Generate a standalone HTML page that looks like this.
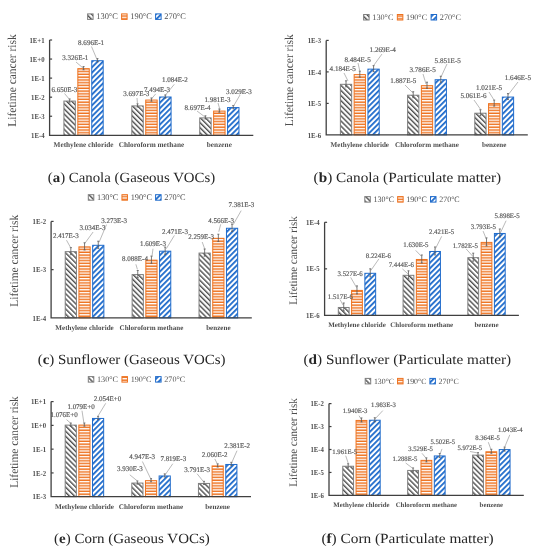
<!DOCTYPE html><html><head><meta charset="utf-8"><style>html,body{margin:0;padding:0;background:#fff;width:540px;height:550px;overflow:hidden}svg{display:block;filter:blur(0.3px)}text{font-family:"Liberation Serif",serif;text-rendering:geometricPrecision}</style></head><body>
<svg width="540" height="550" viewBox="0 0 540 550">
<defs>
<pattern id="pg" patternUnits="userSpaceOnUse" width="3.6" height="10" patternTransform="rotate(-45)"><rect width="3.6" height="10" fill="#fff"/><rect x="0" y="0" width="1.4" height="10" fill="#4d4d4d"/></pattern>
<pattern id="pb" patternUnits="userSpaceOnUse" width="3.85" height="10" patternTransform="rotate(45)"><rect width="3.85" height="10" fill="#fff"/><rect x="0" y="0" width="1.8" height="10" fill="#1F6BCB"/></pattern>
<pattern id="po" patternUnits="userSpaceOnUse" width="10" height="2.78"><rect width="10" height="2.78" fill="#EE721F"/><rect x="0" y="0" width="10" height="1.35" fill="#fff"/></pattern>
</defs>
<rect width="540" height="550" fill="#fff"/>
<rect x="63.92" y="101.06" width="11.42" height="34.24" fill="url(#pg)" stroke="#7F7F7F" stroke-width="1"/>
<path d="M69.63 98.96V102.16M68.63 98.96H70.63M68.63 102.16H70.63" stroke="#595959" stroke-width="0.8" fill="none"/>
<rect x="77.84" y="68.67" width="11.42" height="66.63" fill="url(#po)" stroke="#EE721F" stroke-width="1"/>
<path d="M83.55 66.57V69.77M82.55 66.57H84.55M82.55 69.77H84.55" stroke="#595959" stroke-width="0.8" fill="none"/>
<rect x="91.76" y="60.72" width="11.42" height="74.58" fill="url(#pb)" stroke="#1F6BCB" stroke-width="1"/>
<path d="M97.47 58.62V61.82M96.47 58.62H98.47M96.47 61.82H98.47" stroke="#595959" stroke-width="0.8" fill="none"/>
<text x="83.55" y="147.10" font-size="7.28" font-weight="bold" fill="#4f4f4f" text-anchor="middle">Methylene chloride</text>
<rect x="131.82" y="105.92" width="11.42" height="29.38" fill="url(#pg)" stroke="#7F7F7F" stroke-width="1"/>
<path d="M137.53 103.82V107.02M136.53 103.82H138.53M136.53 107.02H138.53" stroke="#595959" stroke-width="0.8" fill="none"/>
<rect x="145.74" y="100.07" width="11.42" height="35.23" fill="url(#po)" stroke="#EE721F" stroke-width="1"/>
<path d="M151.45 97.97V101.17M150.45 97.97H152.45M150.45 101.17H152.45" stroke="#595959" stroke-width="0.8" fill="none"/>
<rect x="159.66" y="97.01" width="11.42" height="38.29" fill="url(#pb)" stroke="#1F6BCB" stroke-width="1"/>
<path d="M165.37 94.91V98.11M164.37 94.91H166.37M164.37 98.11H166.37" stroke="#595959" stroke-width="0.8" fill="none"/>
<text x="151.45" y="147.10" font-size="7.28" font-weight="bold" fill="#4f4f4f" text-anchor="middle">Chloroform methane</text>
<rect x="199.72" y="117.90" width="11.42" height="17.40" fill="url(#pg)" stroke="#7F7F7F" stroke-width="1"/>
<path d="M205.43 115.80V119.00M204.43 115.80H206.43M204.43 119.00H206.43" stroke="#595959" stroke-width="0.8" fill="none"/>
<rect x="213.64" y="111.08" width="11.42" height="24.22" fill="url(#po)" stroke="#EE721F" stroke-width="1"/>
<path d="M219.35 108.98V112.18M218.35 108.98H220.35M218.35 112.18H220.35" stroke="#595959" stroke-width="0.8" fill="none"/>
<rect x="227.56" y="107.57" width="11.42" height="27.73" fill="url(#pb)" stroke="#1F6BCB" stroke-width="1"/>
<path d="M233.27 105.47V108.67M232.27 105.47H234.27M232.27 108.67H234.27" stroke="#595959" stroke-width="0.8" fill="none"/>
<text x="219.35" y="147.10" font-size="7.28" font-weight="bold" fill="#4f4f4f" text-anchor="middle">benzene</text>
<text x="51.40" y="92.00" font-size="7.16" fill="#4f4f4f" stroke="#666" stroke-width="0.18" textLength="26.00" lengthAdjust="spacingAndGlyphs">6.650E-3</text>
<path d="M64.50 93.50L70.00 100.00" stroke="#8C8C8C" stroke-width="0.6"/>
<text x="62.30" y="60.40" font-size="7.16" fill="#4f4f4f" stroke="#666" stroke-width="0.18" textLength="26.00" lengthAdjust="spacingAndGlyphs">3.326E-1</text>
<path d="M76.00 62.00L83.00 68.00" stroke="#8C8C8C" stroke-width="0.6"/>
<text x="78.10" y="44.80" font-size="7.16" fill="#4f4f4f" stroke="#666" stroke-width="0.18" textLength="26.00" lengthAdjust="spacingAndGlyphs">8.696E-1</text>
<path d="M91.50 46.50L97.10 59.80" stroke="#8C8C8C" stroke-width="0.6"/>
<text x="123.30" y="96.40" font-size="7.16" fill="#4f4f4f" stroke="#666" stroke-width="0.18" textLength="26.00" lengthAdjust="spacingAndGlyphs">3.697E-3</text>
<path d="M137.00 98.00L137.50 104.00" stroke="#8C8C8C" stroke-width="0.6"/>
<text x="144.10" y="91.50" font-size="7.16" fill="#4f4f4f" stroke="#666" stroke-width="0.18" textLength="26.00" lengthAdjust="spacingAndGlyphs">7.494E-3</text>
<path d="M155.70 93.90L151.30 99.10" stroke="#8C8C8C" stroke-width="0.6"/>
<text x="161.90" y="81.60" font-size="7.16" fill="#4f4f4f" stroke="#666" stroke-width="0.18" textLength="26.00" lengthAdjust="spacingAndGlyphs">1.084E-2</text>
<path d="M174.30 84.30L164.60 96.10" stroke="#8C8C8C" stroke-width="0.6"/>
<text x="184.60" y="109.80" font-size="7.16" fill="#4f4f4f" stroke="#666" stroke-width="0.18" textLength="26.00" lengthAdjust="spacingAndGlyphs">8.697E-4</text>
<path d="M197.00 111.00L205.00 117.00" stroke="#8C8C8C" stroke-width="0.6"/>
<text x="204.50" y="101.50" font-size="7.16" fill="#4f4f4f" stroke="#666" stroke-width="0.18" textLength="26.00" lengthAdjust="spacingAndGlyphs">1.981E-3</text>
<path d="M218.00 103.00L220.00 110.00" stroke="#8C8C8C" stroke-width="0.6"/>
<text x="225.90" y="93.60" font-size="7.16" fill="#4f4f4f" stroke="#666" stroke-width="0.18" textLength="26.00" lengthAdjust="spacingAndGlyphs">3.029E-3</text>
<path d="M240.00 95.00L233.00 107.00" stroke="#8C8C8C" stroke-width="0.6"/>
<path d="M49.60 40.00V135.30H253.30" stroke="#404040" stroke-width="1.3" fill="none"/>
<path d="M49.60 40.00H52.10" stroke="#404040" stroke-width="1.2"/>
<text x="29.47" y="42.60" font-size="7.6" font-weight="bold" fill="#4f4f4f" textLength="15.13" lengthAdjust="spacingAndGlyphs">1E+1</text>
<path d="M49.60 59.06H52.10" stroke="#404040" stroke-width="1.2"/>
<text x="29.47" y="61.66" font-size="7.6" font-weight="bold" fill="#4f4f4f" textLength="15.13" lengthAdjust="spacingAndGlyphs">1E+0</text>
<path d="M49.60 78.12H52.10" stroke="#404040" stroke-width="1.2"/>
<text x="31.07" y="80.72" font-size="7.6" font-weight="bold" fill="#4f4f4f" textLength="13.53" lengthAdjust="spacingAndGlyphs">1E-1</text>
<path d="M49.60 97.18H52.10" stroke="#404040" stroke-width="1.2"/>
<text x="31.07" y="99.78" font-size="7.6" font-weight="bold" fill="#4f4f4f" textLength="13.53" lengthAdjust="spacingAndGlyphs">1E-2</text>
<path d="M49.60 116.24H52.10" stroke="#404040" stroke-width="1.2"/>
<text x="31.07" y="118.84" font-size="7.6" font-weight="bold" fill="#4f4f4f" textLength="13.53" lengthAdjust="spacingAndGlyphs">1E-3</text>
<text x="31.07" y="137.90" font-size="7.6" font-weight="bold" fill="#4f4f4f" textLength="13.53" lengthAdjust="spacingAndGlyphs">1E-4</text>
<text x="-80.50" y="16.00" font-size="12.01" fill="#4d4d4d" text-anchor="middle" transform="rotate(-90 0.00 0.00)" textLength="92.50" lengthAdjust="spacingAndGlyphs">Lifetime cancer risk</text>
<rect x="87.60" y="13.90" width="5.5" height="5.5" fill="url(#pg)" stroke="#7F7F7F" stroke-width="1"/>
<text x="96.30" y="19.40" font-size="8.60" fill="#4f4f4f" textLength="21.50" lengthAdjust="spacingAndGlyphs">130°C</text>
<rect x="121.60" y="13.90" width="5.5" height="5.5" fill="url(#po)" stroke="#EE721F" stroke-width="1"/>
<text x="130.30" y="19.40" font-size="8.60" fill="#4f4f4f" textLength="21.50" lengthAdjust="spacingAndGlyphs">190°C</text>
<rect x="155.60" y="13.90" width="5.5" height="5.5" fill="url(#pb)" stroke="#1F6BCB" stroke-width="1"/>
<text x="164.30" y="19.40" font-size="8.60" fill="#4f4f4f" textLength="21.50" lengthAdjust="spacingAndGlyphs">270°C</text>
<text x="47.80" y="181.60" font-size="14" fill="#262626" textLength="167.40" lengthAdjust="spacingAndGlyphs">(<tspan font-weight="bold">a</tspan>) Canola (Gaseous VOCs)</text>
<rect x="340.39" y="84.32" width="11.28" height="50.58" fill="url(#pg)" stroke="#7F7F7F" stroke-width="1"/>
<path d="M346.02 80.82V86.82M345.02 80.82H347.02M345.02 86.82H347.02" stroke="#595959" stroke-width="0.8" fill="none"/>
<rect x="354.16" y="74.65" width="11.28" height="60.25" fill="url(#po)" stroke="#EE721F" stroke-width="1"/>
<path d="M359.80 71.15V77.15M358.80 71.15H360.80M358.80 77.15H360.80" stroke="#595959" stroke-width="0.8" fill="none"/>
<rect x="367.94" y="69.14" width="11.28" height="65.76" fill="url(#pb)" stroke="#1F6BCB" stroke-width="1"/>
<path d="M373.58 65.64V71.64M372.58 65.64H374.58M372.58 71.64H374.58" stroke="#595959" stroke-width="0.8" fill="none"/>
<text x="359.80" y="146.70" font-size="7.08" font-weight="bold" fill="#4f4f4f" text-anchor="middle">Methylene chloride</text>
<rect x="407.59" y="95.21" width="11.28" height="39.69" fill="url(#pg)" stroke="#7F7F7F" stroke-width="1"/>
<path d="M413.22 91.71V97.71M412.22 91.71H414.22M412.22 97.71H414.22" stroke="#595959" stroke-width="0.8" fill="none"/>
<rect x="421.36" y="85.69" width="11.28" height="49.21" fill="url(#po)" stroke="#EE721F" stroke-width="1"/>
<path d="M427.00 82.19V88.19M426.00 82.19H428.00M426.00 88.19H428.00" stroke="#595959" stroke-width="0.8" fill="none"/>
<rect x="435.14" y="79.73" width="11.28" height="55.17" fill="url(#pb)" stroke="#1F6BCB" stroke-width="1"/>
<path d="M440.78 76.23V82.23M439.78 76.23H441.78M439.78 82.23H441.78" stroke="#595959" stroke-width="0.8" fill="none"/>
<text x="427.00" y="146.70" font-size="7.08" font-weight="bold" fill="#4f4f4f" text-anchor="middle">Chloroform methane</text>
<rect x="474.79" y="113.22" width="11.28" height="21.68" fill="url(#pg)" stroke="#7F7F7F" stroke-width="1"/>
<path d="M480.42 109.72V115.72M479.42 109.72H481.42M479.42 115.72H481.42" stroke="#595959" stroke-width="0.8" fill="none"/>
<rect x="488.56" y="103.62" width="11.28" height="31.28" fill="url(#po)" stroke="#EE721F" stroke-width="1"/>
<path d="M494.20 100.12V106.12M493.20 100.12H495.20M493.20 106.12H495.20" stroke="#595959" stroke-width="0.8" fill="none"/>
<rect x="502.34" y="97.08" width="11.28" height="37.82" fill="url(#pb)" stroke="#1F6BCB" stroke-width="1"/>
<path d="M507.98 93.58V99.58M506.98 93.58H508.98M506.98 99.58H508.98" stroke="#595959" stroke-width="0.8" fill="none"/>
<text x="494.20" y="146.70" font-size="7.08" font-weight="bold" fill="#4f4f4f" text-anchor="middle">benzene</text>
<text x="329.60" y="70.80" font-size="7.22" fill="#4f4f4f" stroke="#666" stroke-width="0.18" textLength="26.20" lengthAdjust="spacingAndGlyphs">4.184E-5</text>
<path d="M344.00 73.00L348.00 81.00" stroke="#8C8C8C" stroke-width="0.6"/>
<text x="344.50" y="61.50" font-size="7.22" fill="#4f4f4f" stroke="#666" stroke-width="0.18" textLength="26.20" lengthAdjust="spacingAndGlyphs">8.484E-5</text>
<path d="M358.00 63.00L360.00 72.00" stroke="#8C8C8C" stroke-width="0.6"/>
<text x="369.60" y="52.10" font-size="7.22" fill="#4f4f4f" stroke="#666" stroke-width="0.18" textLength="26.20" lengthAdjust="spacingAndGlyphs">1.269E-4</text>
<path d="M382.00 54.00L374.00 65.00" stroke="#8C8C8C" stroke-width="0.6"/>
<text x="390.20" y="83.30" font-size="7.22" fill="#4f4f4f" stroke="#666" stroke-width="0.18" textLength="26.20" lengthAdjust="spacingAndGlyphs">1.887E-5</text>
<path d="M405.00 85.00L413.00 93.00" stroke="#8C8C8C" stroke-width="0.6"/>
<text x="409.50" y="72.20" font-size="7.22" fill="#4f4f4f" stroke="#666" stroke-width="0.18" textLength="26.20" lengthAdjust="spacingAndGlyphs">3.786E-5</text>
<path d="M423.00 74.00L426.00 84.00" stroke="#8C8C8C" stroke-width="0.6"/>
<text x="434.60" y="63.00" font-size="7.22" fill="#4f4f4f" stroke="#666" stroke-width="0.18" textLength="26.20" lengthAdjust="spacingAndGlyphs">5.851E-5</text>
<path d="M447.00 64.00L441.00 77.00" stroke="#8C8C8C" stroke-width="0.6"/>
<text x="460.40" y="98.10" font-size="7.22" fill="#4f4f4f" stroke="#666" stroke-width="0.18" textLength="26.20" lengthAdjust="spacingAndGlyphs">5.061E-6</text>
<path d="M474.00 100.00L481.00 110.00" stroke="#8C8C8C" stroke-width="0.6"/>
<text x="475.90" y="90.40" font-size="7.22" fill="#4f4f4f" stroke="#666" stroke-width="0.18" textLength="26.20" lengthAdjust="spacingAndGlyphs">1.021E-5</text>
<path d="M489.00 92.00L494.00 100.00" stroke="#8C8C8C" stroke-width="0.6"/>
<text x="504.80" y="80.10" font-size="7.22" fill="#4f4f4f" stroke="#666" stroke-width="0.18" textLength="26.20" lengthAdjust="spacingAndGlyphs">1.646E-5</text>
<path d="M518.00 82.00L508.00 95.00" stroke="#8C8C8C" stroke-width="0.6"/>
<path d="M326.20 40.40V134.90H527.80" stroke="#404040" stroke-width="1.3" fill="none"/>
<path d="M326.20 40.40H328.70" stroke="#404040" stroke-width="1.2"/>
<text x="307.67" y="43.00" font-size="7.6" font-weight="bold" fill="#4f4f4f" textLength="13.53" lengthAdjust="spacingAndGlyphs">1E-3</text>
<path d="M326.20 71.90H328.70" stroke="#404040" stroke-width="1.2"/>
<text x="307.67" y="74.50" font-size="7.6" font-weight="bold" fill="#4f4f4f" textLength="13.53" lengthAdjust="spacingAndGlyphs">1E-4</text>
<path d="M326.20 103.40H328.70" stroke="#404040" stroke-width="1.2"/>
<text x="307.67" y="106.00" font-size="7.6" font-weight="bold" fill="#4f4f4f" textLength="13.53" lengthAdjust="spacingAndGlyphs">1E-5</text>
<text x="307.67" y="137.50" font-size="7.6" font-weight="bold" fill="#4f4f4f" textLength="13.53" lengthAdjust="spacingAndGlyphs">1E-6</text>
<text x="-80.25" y="293.00" font-size="11.94" fill="#4d4d4d" text-anchor="middle" transform="rotate(-90 0.00 0.00)" textLength="92.00" lengthAdjust="spacingAndGlyphs">Lifetime cancer risk</text>
<rect x="363.60" y="14.50" width="5.5" height="5.5" fill="url(#pg)" stroke="#7F7F7F" stroke-width="1"/>
<text x="372.30" y="20.00" font-size="8.44" fill="#4f4f4f" textLength="21.10" lengthAdjust="spacingAndGlyphs">130°C</text>
<rect x="397.35" y="14.50" width="5.5" height="5.5" fill="url(#po)" stroke="#EE721F" stroke-width="1"/>
<text x="406.05" y="20.00" font-size="8.44" fill="#4f4f4f" textLength="21.10" lengthAdjust="spacingAndGlyphs">190°C</text>
<rect x="431.10" y="14.50" width="5.5" height="5.5" fill="url(#pb)" stroke="#1F6BCB" stroke-width="1"/>
<text x="439.80" y="20.00" font-size="8.44" fill="#4f4f4f" textLength="21.10" lengthAdjust="spacingAndGlyphs">270°C</text>
<text x="313.60" y="181.60" font-size="14" fill="#262626" textLength="187.60" lengthAdjust="spacingAndGlyphs">(<tspan font-weight="bold">b</tspan>) Canola (Particulate matter)</text>
<rect x="65.23" y="251.66" width="11.21" height="66.24" fill="url(#pg)" stroke="#7F7F7F" stroke-width="1"/>
<path d="M70.84 247.56V254.76M69.84 247.56H71.84M69.84 254.76H71.84" stroke="#595959" stroke-width="0.8" fill="none"/>
<rect x="78.94" y="246.89" width="11.21" height="71.01" fill="url(#po)" stroke="#EE721F" stroke-width="1"/>
<path d="M84.55 242.79V249.99M83.55 242.79H85.55M83.55 249.99H85.55" stroke="#595959" stroke-width="0.8" fill="none"/>
<rect x="92.66" y="245.30" width="11.21" height="72.60" fill="url(#pb)" stroke="#1F6BCB" stroke-width="1"/>
<path d="M98.26 241.20V248.40M97.26 241.20H99.26M97.26 248.40H99.26" stroke="#595959" stroke-width="0.8" fill="none"/>
<text x="84.55" y="329.70" font-size="7.09" font-weight="bold" fill="#4f4f4f" text-anchor="middle">Methylene chloride</text>
<rect x="132.13" y="274.60" width="11.21" height="43.30" fill="url(#pg)" stroke="#7F7F7F" stroke-width="1"/>
<path d="M137.74 270.50V277.70M136.74 270.50H138.74M136.74 277.70H138.74" stroke="#595959" stroke-width="0.8" fill="none"/>
<rect x="145.84" y="260.18" width="11.21" height="57.72" fill="url(#po)" stroke="#EE721F" stroke-width="1"/>
<path d="M151.45 256.08V263.28M150.45 256.08H152.45M150.45 263.28H152.45" stroke="#595959" stroke-width="0.8" fill="none"/>
<rect x="159.56" y="251.19" width="11.21" height="66.71" fill="url(#pb)" stroke="#1F6BCB" stroke-width="1"/>
<path d="M165.16 247.09V254.29M164.16 247.09H166.16M164.16 254.29H166.16" stroke="#595959" stroke-width="0.8" fill="none"/>
<text x="151.45" y="329.70" font-size="7.09" font-weight="bold" fill="#4f4f4f" text-anchor="middle">Chloroform methane</text>
<rect x="199.03" y="253.07" width="11.21" height="64.83" fill="url(#pg)" stroke="#7F7F7F" stroke-width="1"/>
<path d="M204.64 248.97V256.17M203.64 248.97H205.64M203.64 256.17H205.64" stroke="#595959" stroke-width="0.8" fill="none"/>
<rect x="212.74" y="238.33" width="11.21" height="79.57" fill="url(#po)" stroke="#EE721F" stroke-width="1"/>
<path d="M218.35 234.23V241.43M217.35 234.23H219.35M217.35 241.43H219.35" stroke="#595959" stroke-width="0.8" fill="none"/>
<rect x="226.46" y="228.26" width="11.21" height="89.64" fill="url(#pb)" stroke="#1F6BCB" stroke-width="1"/>
<path d="M232.06 224.16V231.36M231.06 224.16H233.06M231.06 231.36H233.06" stroke="#595959" stroke-width="0.8" fill="none"/>
<text x="218.35" y="329.70" font-size="7.09" font-weight="bold" fill="#4f4f4f" text-anchor="middle">benzene</text>
<text x="52.90" y="237.50" font-size="7.11" fill="#4f4f4f" stroke="#666" stroke-width="0.18" textLength="25.80" lengthAdjust="spacingAndGlyphs">2.417E-3</text>
<path d="M66.50 240.20L71.00 248.30" stroke="#8C8C8C" stroke-width="0.6"/>
<text x="79.60" y="230.10" font-size="7.11" fill="#4f4f4f" stroke="#666" stroke-width="0.18" textLength="25.80" lengthAdjust="spacingAndGlyphs">3.034E-3</text>
<path d="M93.10 232.00L85.00 243.10" stroke="#8C8C8C" stroke-width="0.6"/>
<text x="101.20" y="222.70" font-size="7.11" fill="#4f4f4f" stroke="#666" stroke-width="0.18" textLength="25.80" lengthAdjust="spacingAndGlyphs">3.273E-3</text>
<path d="M106.50 224.60L99.00 242.40" stroke="#8C8C8C" stroke-width="0.6"/>
<text x="122.10" y="260.80" font-size="7.11" fill="#4f4f4f" stroke="#666" stroke-width="0.18" textLength="25.80" lengthAdjust="spacingAndGlyphs">8.088E-4</text>
<path d="M135.90 264.30L137.40 269.40" stroke="#8C8C8C" stroke-width="0.6"/>
<text x="140.10" y="246.00" font-size="7.11" fill="#4f4f4f" stroke="#666" stroke-width="0.18" textLength="25.80" lengthAdjust="spacingAndGlyphs">1.609E-3</text>
<path d="M153.00 248.70L151.90 256.90" stroke="#8C8C8C" stroke-width="0.6"/>
<text x="162.10" y="233.70" font-size="7.11" fill="#4f4f4f" stroke="#666" stroke-width="0.18" textLength="25.80" lengthAdjust="spacingAndGlyphs">2.471E-3</text>
<path d="M174.40 235.40L166.30 248.70" stroke="#8C8C8C" stroke-width="0.6"/>
<text x="188.30" y="239.30" font-size="7.11" fill="#4f4f4f" stroke="#666" stroke-width="0.18" textLength="25.80" lengthAdjust="spacingAndGlyphs">2.259E-3</text>
<path d="M202.20 242.00L204.90 249.40" stroke="#8C8C8C" stroke-width="0.6"/>
<text x="208.30" y="223.00" font-size="7.11" fill="#4f4f4f" stroke="#666" stroke-width="0.18" textLength="25.80" lengthAdjust="spacingAndGlyphs">4.566E-3</text>
<path d="M220.70 224.30L218.80 231.70" stroke="#8C8C8C" stroke-width="0.6"/>
<text x="228.50" y="207.10" font-size="7.11" fill="#4f4f4f" stroke="#666" stroke-width="0.18" textLength="25.80" lengthAdjust="spacingAndGlyphs">7.381E-3</text>
<path d="M241.20 210.60L233.10 224.80" stroke="#8C8C8C" stroke-width="0.6"/>
<path d="M51.10 221.40V317.90H251.80" stroke="#404040" stroke-width="1.3" fill="none"/>
<path d="M51.10 221.40H53.60" stroke="#404040" stroke-width="1.2"/>
<text x="32.57" y="224.00" font-size="7.6" font-weight="bold" fill="#4f4f4f" textLength="13.53" lengthAdjust="spacingAndGlyphs">1E-2</text>
<path d="M51.10 269.65H53.60" stroke="#404040" stroke-width="1.2"/>
<text x="32.57" y="272.25" font-size="7.6" font-weight="bold" fill="#4f4f4f" textLength="13.53" lengthAdjust="spacingAndGlyphs">1E-3</text>
<text x="32.57" y="320.50" font-size="7.6" font-weight="bold" fill="#4f4f4f" textLength="13.53" lengthAdjust="spacingAndGlyphs">1E-4</text>
<text x="-260.75" y="18.00" font-size="11.94" fill="#4d4d4d" text-anchor="middle" transform="rotate(-90 0.00 0.00)" textLength="92.00" lengthAdjust="spacingAndGlyphs">Lifetime cancer risk</text>
<rect x="88.30" y="194.70" width="5.5" height="5.5" fill="url(#pg)" stroke="#7F7F7F" stroke-width="1"/>
<text x="97.00" y="200.20" font-size="8.52" fill="#4f4f4f" textLength="21.30" lengthAdjust="spacingAndGlyphs">130°C</text>
<rect x="121.95" y="194.70" width="5.5" height="5.5" fill="url(#po)" stroke="#EE721F" stroke-width="1"/>
<text x="130.65" y="200.20" font-size="8.52" fill="#4f4f4f" textLength="21.30" lengthAdjust="spacingAndGlyphs">190°C</text>
<rect x="155.60" y="194.70" width="5.5" height="5.5" fill="url(#pb)" stroke="#1F6BCB" stroke-width="1"/>
<text x="164.30" y="200.20" font-size="8.52" fill="#4f4f4f" textLength="21.30" lengthAdjust="spacingAndGlyphs">270°C</text>
<text x="37.70" y="364.10" font-size="14" fill="#262626" textLength="187.90" lengthAdjust="spacingAndGlyphs">(<tspan font-weight="bold">c</tspan>) Sunflower (Gaseous VOCs)</text>
<rect x="338.32" y="307.48" width="10.78" height="7.92" fill="url(#pg)" stroke="#7F7F7F" stroke-width="1"/>
<path d="M343.71 302.98V310.98M342.71 302.98H344.71M342.71 310.98H344.71" stroke="#595959" stroke-width="0.8" fill="none"/>
<rect x="351.59" y="290.42" width="10.78" height="24.98" fill="url(#po)" stroke="#EE721F" stroke-width="1"/>
<path d="M356.98 285.92V293.92M355.98 285.92H357.98M355.98 293.92H357.98" stroke="#595959" stroke-width="0.8" fill="none"/>
<rect x="364.87" y="273.30" width="10.78" height="42.10" fill="url(#pb)" stroke="#1F6BCB" stroke-width="1"/>
<path d="M370.26 268.80V276.80M369.26 268.80H371.26M369.26 276.80H371.26" stroke="#595959" stroke-width="0.8" fill="none"/>
<text x="356.98" y="327.20" font-size="6.99" font-weight="bold" fill="#4f4f4f" text-anchor="middle">Methylene chloride</text>
<rect x="403.08" y="275.32" width="10.78" height="40.08" fill="url(#pg)" stroke="#7F7F7F" stroke-width="1"/>
<path d="M408.47 270.82V278.82M407.47 270.82H409.47M407.47 278.82H409.47" stroke="#595959" stroke-width="0.8" fill="none"/>
<rect x="416.36" y="259.47" width="10.78" height="55.93" fill="url(#po)" stroke="#EE721F" stroke-width="1"/>
<path d="M421.75 254.97V262.97M420.75 254.97H422.75M420.75 262.97H422.75" stroke="#595959" stroke-width="0.8" fill="none"/>
<rect x="429.64" y="251.48" width="10.78" height="63.92" fill="url(#pb)" stroke="#1F6BCB" stroke-width="1"/>
<path d="M435.03 246.98V254.98M434.03 246.98H436.03M434.03 254.98H436.03" stroke="#595959" stroke-width="0.8" fill="none"/>
<text x="421.75" y="327.20" font-size="6.99" font-weight="bold" fill="#4f4f4f" text-anchor="middle">Chloroform methane</text>
<rect x="467.85" y="257.67" width="10.78" height="57.73" fill="url(#pg)" stroke="#7F7F7F" stroke-width="1"/>
<path d="M473.24 253.17V261.17M472.24 253.17H474.24M472.24 261.17H474.24" stroke="#595959" stroke-width="0.8" fill="none"/>
<rect x="481.13" y="242.40" width="10.78" height="73.00" fill="url(#po)" stroke="#EE721F" stroke-width="1"/>
<path d="M486.52 237.90V245.90M485.52 237.90H487.52M485.52 245.90H487.52" stroke="#595959" stroke-width="0.8" fill="none"/>
<rect x="494.41" y="233.47" width="10.78" height="81.93" fill="url(#pb)" stroke="#1F6BCB" stroke-width="1"/>
<path d="M499.79 228.97V236.97M498.79 228.97H500.79M498.79 236.97H500.79" stroke="#595959" stroke-width="0.8" fill="none"/>
<text x="486.52" y="327.20" font-size="6.99" font-weight="bold" fill="#4f4f4f" text-anchor="middle">benzene</text>
<text x="327.80" y="298.60" font-size="6.94" fill="#4f4f4f" stroke="#666" stroke-width="0.18" textLength="25.20" lengthAdjust="spacingAndGlyphs">1.517E-6</text>
<path d="M340.00 299.50L343.00 305.00" stroke="#8C8C8C" stroke-width="0.6"/>
<text x="337.60" y="275.70" font-size="6.94" fill="#4f4f4f" stroke="#666" stroke-width="0.18" textLength="25.20" lengthAdjust="spacingAndGlyphs">3.527E-6</text>
<path d="M350.70 277.40L356.70 287.80" stroke="#8C8C8C" stroke-width="0.6"/>
<text x="365.80" y="257.70" font-size="6.94" fill="#4f4f4f" stroke="#666" stroke-width="0.18" textLength="25.20" lengthAdjust="spacingAndGlyphs">8.224E-6</text>
<path d="M378.90 258.90L370.70 270.70" stroke="#8C8C8C" stroke-width="0.6"/>
<text x="388.70" y="267.20" font-size="6.94" fill="#4f4f4f" stroke="#666" stroke-width="0.18" textLength="25.20" lengthAdjust="spacingAndGlyphs">7.444E-6</text>
<path d="M402.40 268.90L408.30 274.10" stroke="#8C8C8C" stroke-width="0.6"/>
<text x="403.30" y="247.20" font-size="6.94" fill="#4f4f4f" stroke="#666" stroke-width="0.18" textLength="25.20" lengthAdjust="spacingAndGlyphs">1.630E-5</text>
<path d="M415.70 250.40L421.40 256.30" stroke="#8C8C8C" stroke-width="0.6"/>
<text x="429.00" y="234.20" font-size="6.94" fill="#4f4f4f" stroke="#666" stroke-width="0.18" textLength="25.20" lengthAdjust="spacingAndGlyphs">2.421E-5</text>
<path d="M441.70 236.30L435.00 249.60" stroke="#8C8C8C" stroke-width="0.6"/>
<text x="452.70" y="248.00" font-size="6.94" fill="#4f4f4f" stroke="#666" stroke-width="0.18" textLength="25.20" lengthAdjust="spacingAndGlyphs">1.782E-5</text>
<path d="M466.10 248.90L472.80 256.30" stroke="#8C8C8C" stroke-width="0.6"/>
<text x="470.80" y="228.70" font-size="6.94" fill="#4f4f4f" stroke="#666" stroke-width="0.18" textLength="25.20" lengthAdjust="spacingAndGlyphs">3.793E-5</text>
<path d="M483.10 231.10L486.40 239.30" stroke="#8C8C8C" stroke-width="0.6"/>
<text x="494.50" y="218.30" font-size="6.94" fill="#4f4f4f" stroke="#666" stroke-width="0.18" textLength="25.20" lengthAdjust="spacingAndGlyphs">5.898E-5</text>
<path d="M506.10 220.70L500.20 233.30" stroke="#8C8C8C" stroke-width="0.6"/>
<path d="M324.60 222.30V315.40H518.90" stroke="#404040" stroke-width="1.3" fill="none"/>
<path d="M324.60 222.30H327.10" stroke="#404040" stroke-width="1.2"/>
<text x="306.07" y="224.90" font-size="7.6" font-weight="bold" fill="#4f4f4f" textLength="13.53" lengthAdjust="spacingAndGlyphs">1E-4</text>
<path d="M324.60 268.85H327.10" stroke="#404040" stroke-width="1.2"/>
<text x="306.07" y="271.45" font-size="7.6" font-weight="bold" fill="#4f4f4f" textLength="13.53" lengthAdjust="spacingAndGlyphs">1E-5</text>
<text x="306.07" y="318.00" font-size="7.6" font-weight="bold" fill="#4f4f4f" textLength="13.53" lengthAdjust="spacingAndGlyphs">1E-6</text>
<text x="-260.50" y="297.00" font-size="11.49" fill="#4d4d4d" text-anchor="middle" transform="rotate(-90 0.00 0.00)" textLength="88.50" lengthAdjust="spacingAndGlyphs">Lifetime cancer risk</text>
<rect x="364.80" y="196.60" width="5.5" height="5.5" fill="url(#pg)" stroke="#7F7F7F" stroke-width="1"/>
<text x="373.50" y="202.10" font-size="8.21" fill="#4f4f4f" textLength="20.50" lengthAdjust="spacingAndGlyphs">130°C</text>
<rect x="397.65" y="196.60" width="5.5" height="5.5" fill="url(#po)" stroke="#EE721F" stroke-width="1"/>
<text x="406.35" y="202.10" font-size="8.21" fill="#4f4f4f" textLength="20.50" lengthAdjust="spacingAndGlyphs">190°C</text>
<rect x="430.50" y="196.60" width="5.5" height="5.5" fill="url(#pb)" stroke="#1F6BCB" stroke-width="1"/>
<text x="439.20" y="202.10" font-size="8.21" fill="#4f4f4f" textLength="20.50" lengthAdjust="spacingAndGlyphs">270°C</text>
<text x="303.50" y="364.20" font-size="14" fill="#262626" textLength="207.60" lengthAdjust="spacingAndGlyphs">(<tspan font-weight="bold">d</tspan>) Sunflower (Particulate matter)</text>
<rect x="65.18" y="425.12" width="11.16" height="71.58" fill="url(#pg)" stroke="#7F7F7F" stroke-width="1"/>
<path d="M70.76 423.02V426.22M69.76 423.02H71.76M69.76 426.22H71.76" stroke="#595959" stroke-width="0.8" fill="none"/>
<rect x="78.84" y="425.09" width="11.16" height="71.61" fill="url(#po)" stroke="#EE721F" stroke-width="1"/>
<path d="M84.42 422.99V426.19M83.42 422.99H85.42M83.42 426.19H85.42" stroke="#595959" stroke-width="0.8" fill="none"/>
<rect x="92.50" y="418.44" width="11.16" height="78.26" fill="url(#pb)" stroke="#1F6BCB" stroke-width="1"/>
<path d="M98.08 416.34V419.54M97.08 416.34H99.08M97.08 419.54H99.08" stroke="#595959" stroke-width="0.8" fill="none"/>
<text x="84.42" y="508.50" font-size="7.16" font-weight="bold" fill="#4f4f4f" text-anchor="middle">Methylene chloride</text>
<rect x="131.81" y="483.07" width="11.16" height="13.63" fill="url(#pg)" stroke="#7F7F7F" stroke-width="1"/>
<path d="M137.39 480.97V484.17M136.39 480.97H138.39M136.39 484.17H138.39" stroke="#595959" stroke-width="0.8" fill="none"/>
<rect x="145.47" y="480.69" width="11.16" height="16.01" fill="url(#po)" stroke="#EE721F" stroke-width="1"/>
<path d="M151.05 478.59V481.79M150.05 478.59H152.05M150.05 481.79H152.05" stroke="#595959" stroke-width="0.8" fill="none"/>
<rect x="159.13" y="475.97" width="11.16" height="20.73" fill="url(#pb)" stroke="#1F6BCB" stroke-width="1"/>
<path d="M164.71 473.87V477.07M163.71 473.87H165.71M163.71 477.07H165.71" stroke="#595959" stroke-width="0.8" fill="none"/>
<text x="151.05" y="508.50" font-size="7.16" font-weight="bold" fill="#4f4f4f" text-anchor="middle">Chloroform methane</text>
<rect x="198.44" y="483.44" width="11.16" height="13.26" fill="url(#pg)" stroke="#7F7F7F" stroke-width="1"/>
<path d="M204.02 481.34V484.54M203.02 481.34H205.02M203.02 484.54H205.02" stroke="#595959" stroke-width="0.8" fill="none"/>
<rect x="212.10" y="465.96" width="11.16" height="30.74" fill="url(#po)" stroke="#EE721F" stroke-width="1"/>
<path d="M217.68 463.86V467.06M216.68 463.86H218.68M216.68 467.06H218.68" stroke="#595959" stroke-width="0.8" fill="none"/>
<rect x="225.76" y="464.47" width="11.16" height="32.23" fill="url(#pb)" stroke="#1F6BCB" stroke-width="1"/>
<path d="M231.34 462.37V465.57M230.34 462.37H232.34M230.34 465.57H232.34" stroke="#595959" stroke-width="0.8" fill="none"/>
<text x="217.68" y="508.50" font-size="7.16" font-weight="bold" fill="#4f4f4f" text-anchor="middle">benzene</text>
<text x="50.40" y="416.50" font-size="7.11" fill="#4f4f4f" stroke="#666" stroke-width="0.18" textLength="27.40" lengthAdjust="spacingAndGlyphs">1.076E+0</text>
<path d="M66.50 419.60L71.70 424.10" stroke="#8C8C8C" stroke-width="0.6"/>
<text x="67.40" y="409.10" font-size="7.11" fill="#4f4f4f" stroke="#666" stroke-width="0.18" textLength="27.40" lengthAdjust="spacingAndGlyphs">1.079E+0</text>
<path d="M82.00 410.70L84.30 425.60" stroke="#8C8C8C" stroke-width="0.6"/>
<text x="93.80" y="401.20" font-size="7.11" fill="#4f4f4f" stroke="#666" stroke-width="0.18" textLength="27.40" lengthAdjust="spacingAndGlyphs">2.054E+0</text>
<path d="M105.70 403.30L97.60 416.70" stroke="#8C8C8C" stroke-width="0.6"/>
<text x="117.00" y="470.90" font-size="7.11" fill="#4f4f4f" stroke="#666" stroke-width="0.18" textLength="25.80" lengthAdjust="spacingAndGlyphs">3.930E-3</text>
<path d="M129.80 474.80L138.00 481.50" stroke="#8C8C8C" stroke-width="0.6"/>
<text x="129.30" y="459.10" font-size="7.11" fill="#4f4f4f" stroke="#666" stroke-width="0.18" textLength="25.80" lengthAdjust="spacingAndGlyphs">4.947E-3</text>
<path d="M142.40 461.50L151.30 480.00" stroke="#8C8C8C" stroke-width="0.6"/>
<text x="160.40" y="460.60" font-size="7.11" fill="#4f4f4f" stroke="#666" stroke-width="0.18" textLength="25.80" lengthAdjust="spacingAndGlyphs">7.819E-3</text>
<path d="M172.80 463.70L164.60 475.60" stroke="#8C8C8C" stroke-width="0.6"/>
<text x="184.30" y="472.00" font-size="7.11" fill="#4f4f4f" stroke="#666" stroke-width="0.18" textLength="25.80" lengthAdjust="spacingAndGlyphs">3.791E-3</text>
<path d="M197.00 473.70L203.70 481.90" stroke="#8C8C8C" stroke-width="0.6"/>
<text x="201.70" y="456.50" font-size="7.11" fill="#4f4f4f" stroke="#666" stroke-width="0.18" textLength="25.80" lengthAdjust="spacingAndGlyphs">2.060E-2</text>
<path d="M214.80 458.90L217.80 464.80" stroke="#8C8C8C" stroke-width="0.6"/>
<text x="224.30" y="447.60" font-size="7.11" fill="#4f4f4f" stroke="#666" stroke-width="0.18" textLength="25.80" lengthAdjust="spacingAndGlyphs">2.381E-2</text>
<path d="M237.00 450.70L231.10 464.10" stroke="#8C8C8C" stroke-width="0.6"/>
<path d="M51.10 401.60V496.70H251.00" stroke="#404040" stroke-width="1.3" fill="none"/>
<path d="M51.10 401.60H53.60" stroke="#404040" stroke-width="1.2"/>
<text x="30.97" y="404.20" font-size="7.6" font-weight="bold" fill="#4f4f4f" textLength="15.13" lengthAdjust="spacingAndGlyphs">1E+1</text>
<path d="M51.10 425.38H53.60" stroke="#404040" stroke-width="1.2"/>
<text x="30.97" y="427.98" font-size="7.6" font-weight="bold" fill="#4f4f4f" textLength="15.13" lengthAdjust="spacingAndGlyphs">1E+0</text>
<path d="M51.10 449.15H53.60" stroke="#404040" stroke-width="1.2"/>
<text x="32.57" y="451.75" font-size="7.6" font-weight="bold" fill="#4f4f4f" textLength="13.53" lengthAdjust="spacingAndGlyphs">1E-1</text>
<path d="M51.10 472.93H53.60" stroke="#404040" stroke-width="1.2"/>
<text x="32.57" y="475.53" font-size="7.6" font-weight="bold" fill="#4f4f4f" textLength="13.53" lengthAdjust="spacingAndGlyphs">1E-2</text>
<text x="32.57" y="499.30" font-size="7.6" font-weight="bold" fill="#4f4f4f" textLength="13.53" lengthAdjust="spacingAndGlyphs">1E-3</text>
<text x="-442.00" y="18.00" font-size="11.88" fill="#4d4d4d" text-anchor="middle" transform="rotate(-90 0.00 0.00)" textLength="91.50" lengthAdjust="spacingAndGlyphs">Lifetime cancer risk</text>
<rect x="88.30" y="376.60" width="5.5" height="5.5" fill="url(#pg)" stroke="#7F7F7F" stroke-width="1"/>
<text x="97.00" y="382.10" font-size="8.37" fill="#4f4f4f" textLength="20.90" lengthAdjust="spacingAndGlyphs">130°C</text>
<rect x="121.95" y="376.60" width="5.5" height="5.5" fill="url(#po)" stroke="#EE721F" stroke-width="1"/>
<text x="130.65" y="382.10" font-size="8.37" fill="#4f4f4f" textLength="20.90" lengthAdjust="spacingAndGlyphs">190°C</text>
<rect x="155.60" y="376.60" width="5.5" height="5.5" fill="url(#pb)" stroke="#1F6BCB" stroke-width="1"/>
<text x="164.30" y="382.10" font-size="8.37" fill="#4f4f4f" textLength="20.90" lengthAdjust="spacingAndGlyphs">270°C</text>
<text x="54.10" y="542.80" font-size="14" fill="#262626" textLength="155.70" lengthAdjust="spacingAndGlyphs">(<tspan font-weight="bold">e</tspan>) Corn (Gaseous VOCs)</text>
<rect x="342.75" y="466.24" width="10.81" height="29.16" fill="url(#pg)" stroke="#7F7F7F" stroke-width="1"/>
<path d="M348.16 463.74V467.74M347.16 463.74H349.16M347.16 467.74H349.16" stroke="#595959" stroke-width="0.8" fill="none"/>
<rect x="356.06" y="420.44" width="10.81" height="74.96" fill="url(#po)" stroke="#EE721F" stroke-width="1"/>
<path d="M361.47 417.94V421.94M360.47 417.94H362.47M360.47 421.94H362.47" stroke="#595959" stroke-width="0.8" fill="none"/>
<rect x="369.37" y="420.23" width="10.81" height="75.17" fill="url(#pb)" stroke="#1F6BCB" stroke-width="1"/>
<path d="M374.78 417.73V421.73M373.78 417.73H375.78M373.78 421.73H375.78" stroke="#595959" stroke-width="0.8" fill="none"/>
<text x="361.47" y="507.20" font-size="6.82" font-weight="bold" fill="#4f4f4f" text-anchor="middle">Methylene chloride</text>
<rect x="407.68" y="470.43" width="10.81" height="24.97" fill="url(#pg)" stroke="#7F7F7F" stroke-width="1"/>
<path d="M413.09 467.93V471.93M412.09 467.93H414.09M412.09 471.93H414.09" stroke="#595959" stroke-width="0.8" fill="none"/>
<rect x="420.99" y="460.38" width="10.81" height="35.02" fill="url(#po)" stroke="#EE721F" stroke-width="1"/>
<path d="M426.40 457.88V461.88M425.40 457.88H427.40M425.40 461.88H427.40" stroke="#595959" stroke-width="0.8" fill="none"/>
<rect x="434.31" y="455.96" width="10.81" height="39.44" fill="url(#pb)" stroke="#1F6BCB" stroke-width="1"/>
<path d="M439.71 453.46V457.46M438.71 453.46H440.71M438.71 457.46H440.71" stroke="#595959" stroke-width="0.8" fill="none"/>
<text x="426.40" y="507.20" font-size="6.82" font-weight="bold" fill="#4f4f4f" text-anchor="middle">Chloroform methane</text>
<rect x="472.62" y="455.14" width="10.81" height="40.26" fill="url(#pg)" stroke="#7F7F7F" stroke-width="1"/>
<path d="M478.02 452.64V456.64M477.02 452.64H479.02M477.02 456.64H479.02" stroke="#595959" stroke-width="0.8" fill="none"/>
<rect x="485.93" y="451.78" width="10.81" height="43.62" fill="url(#po)" stroke="#EE721F" stroke-width="1"/>
<path d="M491.33 449.28V453.28M490.33 449.28H492.33M490.33 453.28H492.33" stroke="#595959" stroke-width="0.8" fill="none"/>
<rect x="499.24" y="449.58" width="10.81" height="45.82" fill="url(#pb)" stroke="#1F6BCB" stroke-width="1"/>
<path d="M504.64 447.08V451.08M503.64 447.08H505.64M503.64 451.08H505.64" stroke="#595959" stroke-width="0.8" fill="none"/>
<text x="491.33" y="507.20" font-size="6.82" font-weight="bold" fill="#4f4f4f" text-anchor="middle">benzene</text>
<text x="332.30" y="454.10" font-size="6.83" fill="#4f4f4f" stroke="#666" stroke-width="0.18" textLength="24.80" lengthAdjust="spacingAndGlyphs">1.961E-5</text>
<path d="M345.70 455.70L348.70 464.60" stroke="#8C8C8C" stroke-width="0.6"/>
<text x="342.70" y="413.00" font-size="6.83" fill="#4f4f4f" stroke="#666" stroke-width="0.18" textLength="24.80" lengthAdjust="spacingAndGlyphs">1.940E-3</text>
<path d="M359.00 415.70L361.30 419.40" stroke="#8C8C8C" stroke-width="0.6"/>
<text x="371.10" y="407.40" font-size="6.83" fill="#4f4f4f" stroke="#666" stroke-width="0.18" textLength="24.80" lengthAdjust="spacingAndGlyphs">1.983E-3</text>
<path d="M382.80 410.60L374.60 419.40" stroke="#8C8C8C" stroke-width="0.6"/>
<text x="392.60" y="460.60" font-size="6.83" fill="#4f4f4f" stroke="#666" stroke-width="0.18" textLength="24.80" lengthAdjust="spacingAndGlyphs">1.288E-5</text>
<path d="M405.70 463.00L412.40 468.10" stroke="#8C8C8C" stroke-width="0.6"/>
<text x="408.20" y="450.90" font-size="6.83" fill="#4f4f4f" stroke="#666" stroke-width="0.18" textLength="24.80" lengthAdjust="spacingAndGlyphs">3.529E-5</text>
<path d="M422.00 453.30L426.50 458.80" stroke="#8C8C8C" stroke-width="0.6"/>
<text x="430.40" y="443.50" font-size="6.83" fill="#4f4f4f" stroke="#666" stroke-width="0.18" textLength="24.80" lengthAdjust="spacingAndGlyphs">5.502E-5</text>
<path d="M442.00 448.90L439.80 454.80" stroke="#8C8C8C" stroke-width="0.6"/>
<text x="457.40" y="450.20" font-size="6.83" fill="#4f4f4f" stroke="#666" stroke-width="0.18" textLength="24.80" lengthAdjust="spacingAndGlyphs">5.972E-5</text>
<path d="M470.00 451.50L478.00 453.00" stroke="#8C8C8C" stroke-width="0.6"/>
<text x="475.20" y="439.80" font-size="6.83" fill="#4f4f4f" stroke="#666" stroke-width="0.18" textLength="24.80" lengthAdjust="spacingAndGlyphs">8.364E-5</text>
<path d="M488.30 442.20L491.30 450.40" stroke="#8C8C8C" stroke-width="0.6"/>
<text x="497.90" y="432.40" font-size="6.83" fill="#4f4f4f" stroke="#666" stroke-width="0.18" textLength="24.80" lengthAdjust="spacingAndGlyphs">1.043E-4</text>
<path d="M509.80 434.80L503.90 448.90" stroke="#8C8C8C" stroke-width="0.6"/>
<path d="M329.00 403.60V495.40H523.80" stroke="#404040" stroke-width="1.3" fill="none"/>
<path d="M329.00 403.60H331.50" stroke="#404040" stroke-width="1.2"/>
<text x="310.47" y="406.20" font-size="7.6" font-weight="bold" fill="#4f4f4f" textLength="13.53" lengthAdjust="spacingAndGlyphs">1E-2</text>
<path d="M329.00 426.55H331.50" stroke="#404040" stroke-width="1.2"/>
<text x="310.47" y="429.15" font-size="7.6" font-weight="bold" fill="#4f4f4f" textLength="13.53" lengthAdjust="spacingAndGlyphs">1E-3</text>
<path d="M329.00 449.50H331.50" stroke="#404040" stroke-width="1.2"/>
<text x="310.47" y="452.10" font-size="7.6" font-weight="bold" fill="#4f4f4f" textLength="13.53" lengthAdjust="spacingAndGlyphs">1E-4</text>
<path d="M329.00 472.45H331.50" stroke="#404040" stroke-width="1.2"/>
<text x="310.47" y="475.05" font-size="7.6" font-weight="bold" fill="#4f4f4f" textLength="13.53" lengthAdjust="spacingAndGlyphs">1E-5</text>
<text x="310.47" y="498.00" font-size="7.6" font-weight="bold" fill="#4f4f4f" textLength="13.53" lengthAdjust="spacingAndGlyphs">1E-6</text>
<text x="-442.50" y="297.00" font-size="11.49" fill="#4d4d4d" text-anchor="middle" transform="rotate(-90 0.00 0.00)" textLength="88.50" lengthAdjust="spacingAndGlyphs">Lifetime cancer risk</text>
<rect x="365.20" y="378.40" width="5.5" height="5.5" fill="url(#pg)" stroke="#7F7F7F" stroke-width="1"/>
<text x="373.90" y="383.90" font-size="8.05" fill="#4f4f4f" textLength="20.10" lengthAdjust="spacingAndGlyphs">130°C</text>
<rect x="397.55" y="378.40" width="5.5" height="5.5" fill="url(#po)" stroke="#EE721F" stroke-width="1"/>
<text x="406.25" y="383.90" font-size="8.05" fill="#4f4f4f" textLength="20.10" lengthAdjust="spacingAndGlyphs">190°C</text>
<rect x="429.90" y="378.40" width="5.5" height="5.5" fill="url(#pb)" stroke="#1F6BCB" stroke-width="1"/>
<text x="438.60" y="383.90" font-size="8.05" fill="#4f4f4f" textLength="20.10" lengthAdjust="spacingAndGlyphs">270°C</text>
<text x="321.40" y="542.80" font-size="14" fill="#262626" textLength="172.20" lengthAdjust="spacingAndGlyphs">(<tspan font-weight="bold">f</tspan>) Corn (Particulate matter)</text>
</svg></body></html>
